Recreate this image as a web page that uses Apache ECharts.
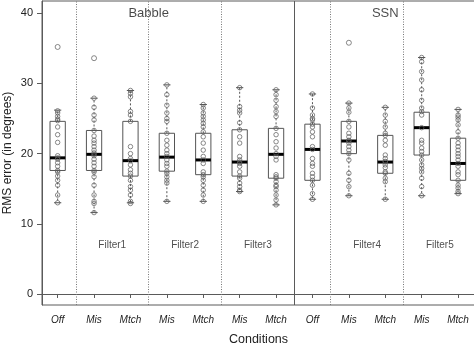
<!DOCTYPE html>
<html><head><meta charset="utf-8">
<script src="https://cdn.jsdelivr.net/npm/echarts@6/dist/echarts.min.js"></script>
<style>html,body{margin:0;padding:0;background:#fff}#c{width:474px;height:343px}</style>
</head><body><div id="c"></div>
<script>
const categories = ['Off','Mis','Mtch','Mis','Mtch','Mis','Mtch','Off','Mis','Mtch','Mis','Mtch'];
const yTicks = [0,10,20,30,40];
// [lower whisker, Q1, median, Q3, upper whisker]
const boxStats = [
  [13.0,17.6,19.4,24.6,26.2],
  [11.6,17.6,19.9,23.3,27.9],
  [13.0,16.8,19.0,24.6,29.0],
  [13.2,17.5,19.5,22.9,29.8],
  [13.2,17.0,19.1,22.9,27.0],
  [14.6,16.8,18.8,23.4,29.4],
  [12.7,16.5,19.9,23.6,29.1],
  [13.5,16.2,20.6,24.2,28.5],
  [14.0,20.0,21.8,24.6,27.2],
  [13.5,17.2,18.8,22.6,26.6],
  [14.0,19.8,23.7,25.9,33.7],
  [14.3,16.2,18.6,22.2,26.3]
];
const outliers = [[1,35.2],[2,33.6],[9,35.8]];
const points = [
  [26.1,25.8,25.3,24.9,24.7,23.8,22.7,21.6,19.7,19.4,19.2,18.7,18.2,17.6,17.4,16.8,16.2,15.5,14.1,13.0],
  [27.9,26.6,25.5,24.8,23.3,22.5,21.9,21.5,21.0,20.5,20.1,19.9,19.7,19.2,18.7,18.2,17.6,17.4,16.7,15.5,14.1,13.2,12.9,11.6],
  [29.0,28.6,28.1,26.0,25.5,24.6,21.0,20.0,19.3,19.0,18.4,17.7,17.2,16.8,16.2,15.3,14.8,14.1,13.2,12.9],
  [29.8,28.4,26.9,25.8,25.0,24.6,22.9,21.9,21.2,20.5,20.0,19.6,19.1,18.6,18.2,17.5,17.2,16.7,16.2,15.8,13.2],
  [27.0,26.5,25.8,25.3,24.8,24.3,23.8,23.1,22.4,21.5,20.5,19.6,19.1,18.6,17.4,17.0,16.7,16.2,15.5,14.8,14.1,13.2],
  [29.4,26.7,26.2,25.8,24.4,23.4,22.4,21.5,19.6,19.1,18.8,18.6,18.2,17.4,16.8,16.5,15.8,15.3,14.8,14.6],
  [29.1,28.4,27.6,26.7,26.0,25.3,23.6,22.7,21.7,20.8,20.0,19.6,19.1,17.0,16.7,16.5,16.0,15.5,15.3,14.8,14.1,13.4,12.7],
  [28.5,26.5,25.5,25.0,24.8,24.2,23.8,23.1,22.4,21.0,20.6,19.3,18.6,18.2,17.2,16.7,16.2,15.5,14.3,13.5],
  [27.2,26.5,25.9,24.6,23.8,22.9,22.4,21.9,21.8,21.5,21.0,20.5,20.0,19.1,17.2,16.2,15.3,14.0],
  [26.6,25.5,24.6,23.8,22.9,22.6,21.9,21.2,19.8,19.3,18.9,18.8,18.4,18.0,17.4,17.2,16.5,16.0,13.5],
  [33.7,33.1,31.7,30.5,29.1,27.6,26.5,26.0,25.5,23.7,21.9,21.5,20.8,20.3,19.8,19.1,18.4,17.9,17.4,16.5,15.3,14.0],
  [26.3,25.5,25.2,24.8,24.1,23.1,22.2,21.5,21.0,20.5,20.0,19.6,19.1,18.6,18.2,17.4,17.0,16.2,15.5,15.1,14.6,14.3]
];
const groupLabels = [['Babble',3.5,40],['SSN',10,40]];
const filterLabels = [['Filter1',2.5,7],['Filter2',4.5,7],['Filter3',6.5,7],['Filter4',9.5,7],['Filter5',11.5,7]];
const dottedDividers = [1.5,3.5,5.5,8.5,10.5];
const solidDividers = [7.5];

const xTickVals = categories.map((c,i)=>i+1);
const boxData = boxStats.map((s,i)=>[i+1].concat(s));
const pointData = [];
points.forEach((arr,i)=>arr.forEach(v=>pointData.push([i+1,v])));

const chart = echarts.init(document.getElementById('c'), null, {renderer:'canvas'});
const FONT = 'Liberation Sans, Arial, sans-serif';
chart.setOption({
  animation:false,
  grid:{left:42, top:1, width:433, height:304, show:true, borderColor:'#5a5a5a', borderWidth:1, containLabel:false, outerBoundsMode:'none'},
  xAxis:{type:'value', min:0.57, max:12.465,
    name:'Conditions', nameLocation:'middle', nameGap:28, nameMoveOverlap:false,
    nameTextStyle:{fontFamily:FONT, fontSize:12.5, color:'#222', verticalAlign:'top'},
    axisLine:{show:true, lineStyle:{color:'#5a5a5a'}},
    axisTick:{show:true, length:4, lineStyle:{color:'#5a5a5a'}, customValues:xTickVals},
    axisLabel:{customValues:xTickVals, formatter:v=>categories[Math.round(v)-1]||'', fontStyle:'italic', fontFamily:FONT, fontSize:10, color:'#222', margin:10},
    splitLine:{show:false}},
  yAxis:{type:'value', min:-1.57, max:41.75,
    name:'RMS error (in degrees)', nameLocation:'middle', nameGap:28, nameRotate:90, nameMoveOverlap:false,
    nameTextStyle:{fontFamily:FONT, fontSize:12, color:'#222'},
    axisLine:{show:true, lineStyle:{color:'#5a5a5a'}},
    axisTick:{show:true, length:5, lineStyle:{color:'#5a5a5a'}, customValues:yTicks},
    axisLabel:{customValues:yTicks, fontFamily:FONT, fontSize:11, color:'#222', margin:9},
    splitLine:{show:false}},
  series:[
    {type:'custom', data:boxData, z:2,
     renderItem:function(params, api){
       const x = api.value(0);
       const lo = api.coord([x, api.value(1)]);
       const q1 = api.coord([x, api.value(2)]);
       const md = api.coord([x, api.value(3)]);
       const q3 = api.coord([x, api.value(4)]);
       const hi = api.coord([x, api.value(5)]);
       const bw = api.size([0.42,0])[0];
       const cw = api.size([0.2,0])[0];
       const cx = lo[0];
       const wStyle = {stroke:'#555', lineWidth:1, lineDash:[2,2]};
       const cStyle = {stroke:'#555', lineWidth:1};
       return {type:'group', children:[
         {type:'line', shape:{x1:cx,y1:q3[1],x2:cx,y2:hi[1]}, style:wStyle},
         {type:'line', shape:{x1:cx,y1:q1[1],x2:cx,y2:lo[1]}, style:wStyle},
         {type:'line', shape:{x1:cx-cw/2,y1:hi[1],x2:cx+cw/2,y2:hi[1]}, style:cStyle},
         {type:'line', shape:{x1:cx-cw/2,y1:lo[1],x2:cx+cw/2,y2:lo[1]}, style:cStyle},
         {type:'rect', shape:{x:cx-bw/2, y:q3[1], width:bw, height:q1[1]-q3[1]}, style:{fill:'#fff', stroke:'#555', lineWidth:1}},
         {type:'line', shape:{x1:cx-bw/2,y1:md[1],x2:cx+bw/2,y2:md[1]}, style:{stroke:'#000', lineWidth:3}}
       ]};
     }},
    {type:'scatter', data:pointData, z:3, symbol:'circle', symbolSize:4.5,
     itemStyle:{color:'rgba(255,255,255,0)', borderColor:'#5a5a5a', borderWidth:0.9}},
    {type:'scatter', data:outliers, z:3, symbol:'circle', symbolSize:5,
     itemStyle:{color:'rgba(255,255,255,0)', borderColor:'#5a5a5a', borderWidth:0.9}},
    {type:'scatter', z:4, symbolSize:0, silent:true,
     data:groupLabels.map(d=>({name:d[0], value:[d[1],d[2]]})),
     label:{show:true, position:'inside', formatter:p=>p.name, fontFamily:FONT, fontSize:13, color:'#1a1a1a'},
     markLine:{silent:true, symbol:'none', label:{show:false},
       data:dottedDividers.map(v=>({xAxis:v, lineStyle:{type:[1,1.5], color:'#777', width:1}}))
         .concat(solidDividers.map(v=>({xAxis:v, lineStyle:{type:'solid', color:'#5a5a5a', width:1}})))}},
    {type:'scatter', z:4, symbolSize:0, silent:true,
     data:filterLabels.map(d=>({name:d[0], value:[d[1],d[2]]})),
     label:{show:true, position:'inside', formatter:p=>p.name, fontFamily:FONT, fontSize:10, color:'#222'}}
  ]
});
</script></body></html>
